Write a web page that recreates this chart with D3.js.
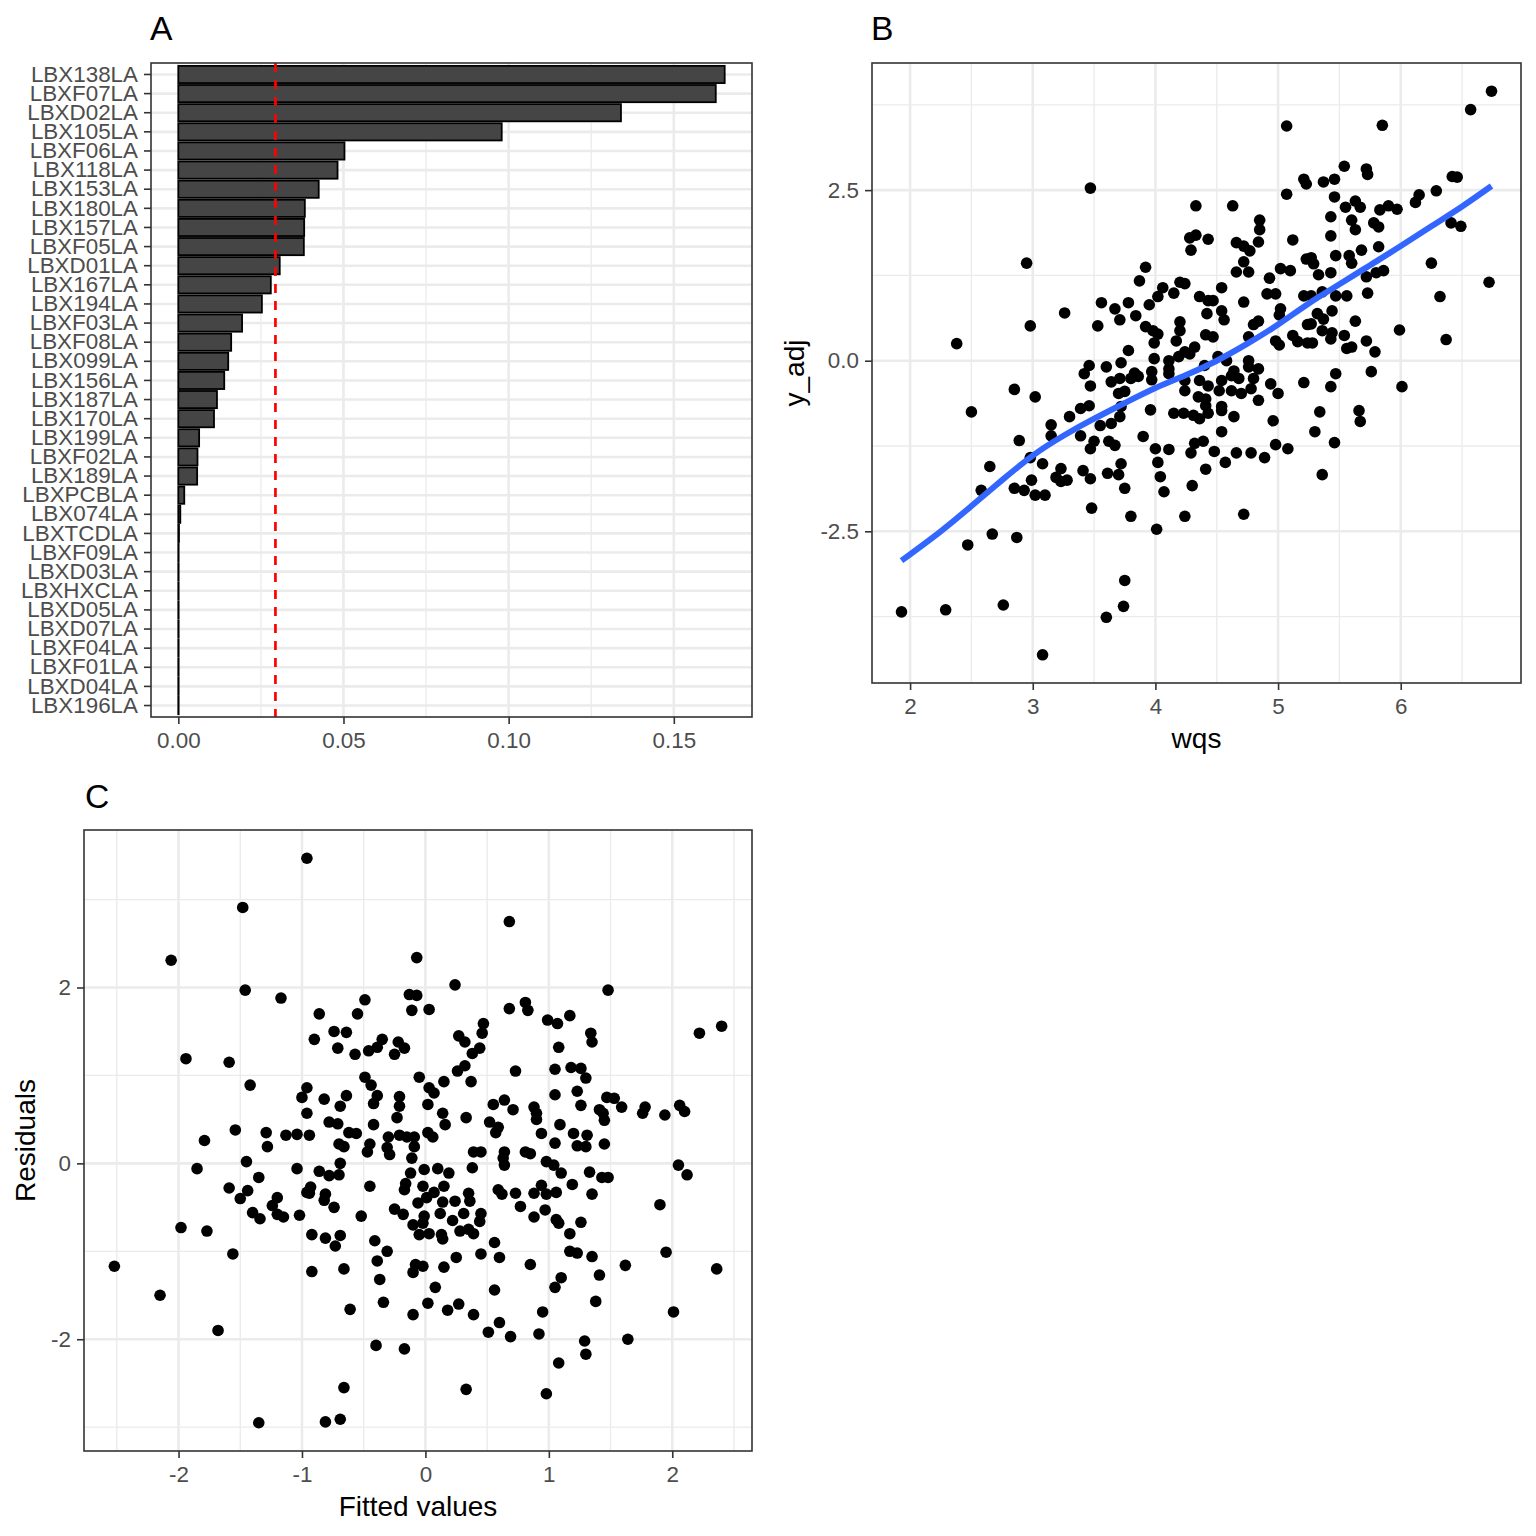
<!DOCTYPE html>
<html>
<head>
<meta charset="utf-8">
<script src="https://cdnjs.cloudflare.com/ajax/libs/d3/7.8.5/d3.min.js"></script>
<style>
  body { margin: 0; background: #fff; }
  svg { display: block; font-family: 'Liberation Sans', Arial, sans-serif; }
</style>
</head>
<body>
<script>
/* ----------- DATA ----------- */
// panel A: weights per congener, top to bottom
const categories = ['LBX138LA','LBXF07LA','LBXD02LA','LBX105LA','LBXF06LA','LBX118LA','LBX153LA',
  'LBX180LA','LBX157LA','LBXF05LA','LBXD01LA','LBX167LA','LBX194LA','LBXF03LA','LBXF08LA',
  'LBX099LA','LBX156LA','LBX187LA','LBX170LA','LBX199LA','LBXF02LA','LBX189LA','LBXPCBLA',
  'LBX074LA','LBXTCDLA','LBXF09LA','LBXD03LA','LBXHXCLA','LBXD05LA','LBXD07LA','LBXF04LA',
  'LBXF01LA','LBXD04LA','LBX196LA'];
const weights = [0.1654,0.1627,0.1340,0.0979,0.0503,0.0482,0.0425,0.0383,0.0381,0.0380,0.0307,
  0.0280,0.0253,0.0193,0.0160,0.0151,0.0139,0.0117,0.0108,0.0063,0.0058,0.0057,0.0018,0.0006,
  0.0002,0,0,0,0,0,0,0,0,0];
const threshold = 0.0294;
const weightTicks = [0, 0.05, 0.10, 0.15];

// panel B: wqs index vs adjusted outcome
const wqs = [3.47,2.95,3.26,2.98,2.38,3.46,3.42,
  5.07,5.21,5.23,5.07,4.33,4.63,4.85,4.85,4.84,4.28,4.33,4.43,4.29,4.66,4.72,4.77,5.12,4.72,4.66,
  4.76,5.02,5.10,5.23,4.93,3.92,3.87,4.20,4.24,4.06,4.02,4.15,4.54,4.91,4.98,5.21,4.36,4.43,4.47,
  4.72,3.56,3.78,3.67,3.95,3.84,3.71,4.42,4.54,4.56,5.02,5.01,3.53,3.92,3.98,4.02,4.20,4.20,3.99,
  4.17,4.41,4.47,4.76,4.84,4.80,4.98,5.01,5.12,5.16,5.24,5.24,3.78,3.72,3.60,3.99,4.11,4.19,4.24,
  4.32,4.28,4.11,3.97,4.40,4.51,4.58,4.76,4.76,4.84,4.64,3.83,
  6.74,6.57,5.85,5.54,5.72,5.73,5.37,5.46,6.42,6.46,6.29,6.15,6.12,5.46,5.55,5.63,5.67,5.83,5.90,
  5.97,5.43,5.60,5.63,5.78,5.82,6.41,6.49,5.43,5.82,5.68,5.58,5.60,5.47,5.27,5.29,5.33,5.43,5.80,
  5.86,5.72,6.25,6.72,5.73,5.56,5.47,5.36,5.27,6.32,5.44,5.32,5.37,5.63,5.27,5.36,5.44,5.43,5.54,
  5.28,5.72,5.56,5.60,5.79,5.99,6.37,5.47,5.76,
  5.43,6.01,5.34,5.66,5.67,5.30,5.46,5.36,
  3.47,2.85,3.02,2.50,3.39,3.46,3.30,3.15,3.15,3.39,2.89,3.47,2.98,3.08,2.65,3.23,3.41,3.19,3.23,
  3.28,2.99,3.47,2.58,2.85,2.93,3.02,3.10,3.48,2.67,2.87,2.47,1.93,2.29,2.76,3.08,
  3.64,3.71,3.80,3.86,3.97,4.11,3.70,3.75,3.72,3.71,3.64,3.55,3.96,3.90,3.50,3.62,3.67,3.72,3.61,
  3.70,3.75,3.80,4.00,4.11,4.02,4.04,4.07,4.01,4.24,4.24,4.36,4.43,4.35,4.41,4.41,4.52,4.54,4.62,
  4.70,4.78,4.80,4.68,4.62,4.94,5.00,5.21,4.84,4.54,4.54,4.64,4.15,4.23,4.31,4.36,4.43,4.96,4.54,
  4.32,4.39,4.29,4.48,4.66,4.78,4.89,4.98,5.08,4.57,4.41,4.30,4.24,4.72,3.75,3.74,3.60];
const yAdj = [2.53,1.43,0.70,0.51,0.25,-0.07,-0.19,
  3.44,2.66,2.59,2.44,2.27,2.27,2.06,1.92,1.74,1.80,1.84,1.78,1.62,1.73,1.68,1.61,1.77,1.45,1.30,
  1.30,1.35,1.32,1.49,1.21,1.37,1.17,1.15,1.13,1.07,0.94,0.99,1.07,0.98,0.98,0.95,0.94,0.88,0.88,
  0.86,0.85,0.85,0.76,0.82,0.66,0.60,0.69,0.73,0.60,0.76,0.67,0.51,0.50,0.44,0.39,0.57,0.44,0.26,
  0.29,0.38,0.35,0.35,0.58,0.53,0.29,0.23,0.37,0.28,0.26,0.53,0.15,-0.03,-0.09,0.03,0.00,0.06,0.13,
  0.20,0.10,-0.12,-0.16,-0.07,0.06,0.00,0.00,-0.09,-0.12,-0.15,-0.18,
  3.95,3.68,3.45,2.85,2.81,2.73,2.62,2.66,2.70,2.69,2.49,2.43,2.32,2.40,2.25,2.34,2.25,2.21,2.27,
  2.22,2.11,2.06,1.92,2.02,1.96,2.02,1.97,1.83,1.67,1.62,1.54,1.43,1.54,1.51,1.42,1.26,1.29,1.29,
  1.32,1.23,1.43,1.15,0.99,0.95,0.95,1.01,0.95,0.94,0.73,0.69,0.61,0.58,0.54,0.44,0.41,0.32,0.37,
  0.26,0.29,0.18,0.20,0.13,0.45,0.31,-0.19,-0.16,
  -0.38,-0.38,-0.75,-0.73,-0.89,-1.04,-1.20,-1.67,
  -0.37,-0.42,-0.53,-0.75,-0.70,-0.66,-0.82,-0.94,-1.10,-1.10,-1.17,-1.29,-1.42,-1.51,-1.55,-1.58,
  -1.61,-1.71,-1.77,-1.75,-1.75,-1.73,-1.90,-1.87,-1.90,-1.97,-1.97,-2.16,-2.54,-2.59,-2.70,-3.68,
  -3.65,-3.58,-4.31,
  -0.31,-0.26,-0.26,-0.23,-0.28,-0.19,-0.48,-0.45,-0.67,-0.82,-0.92,-0.95,-0.72,-1.11,-1.18,-1.18,
  -1.24,-1.51,-1.65,-1.67,-1.87,-2.28,-1.29,-1.30,-1.49,-1.70,-1.92,-2.47,-0.29,-0.44,-0.29,-0.37,
  -0.53,-0.56,-0.66,-0.44,-0.29,-0.44,-0.48,-0.41,-0.26,-0.26,-0.22,-0.34,-0.48,-0.32,-0.58,-0.67,
  -0.73,-0.82,-0.77,-0.77,-0.80,-0.85,-0.77,-0.88,-1.04,-1.21,-1.18,-1.35,-1.33,-1.35,-1.35,-1.42,
  -1.23,-1.29,-1.49,-1.59,-1.83,-2.28,-2.25,-3.22,-3.60,-3.76];
// smoother
const smoothX = [1.93,2.25,2.5,2.75,3.0,3.25,3.5,3.75,4.0,4.25,4.5,4.75,5.0,5.25,5.5,5.75,6.0,6.25,6.5,6.74];
const smoothY = [-2.93,-2.50,-2.13,-1.75,-1.39,-1.10,-0.85,-0.62,-0.40,-0.21,0.00,0.25,0.53,0.84,1.12,1.40,1.68,1.97,2.26,2.56];
const wqsTicks = [2, 3, 4, 5, 6];
const yAdjTicks = [-2.5, 0, 2.5];

// panel C: fitted values vs residuals
const fitted = [-0.96,-1.48,-2.06,-1.46,-1.17,-1.94,-1.59,-1.42,-0.96,-1.00,-0.96,-1.54,-1.29,-1.13,-1.04,-1.79,
  -1.28,-1.45,-1.85,-1.04,-1.35,-1.59,-1.44,-1.50,-1.20,-1.24,-0.96,-1.40,-1.34,-1.20,-1.15,-1.02,-1.98,
  -1.77,-1.56,-2.52,-2.15,-1.68,-1.35,
  0.68,-0.07,0.24,-0.13,-0.07,-0.49,-0.86,-0.55,-0.11,0.03,0.68,0.81,0.83,-0.74,-0.64,-0.90,-0.71,-0.57,
  -0.46,-0.39,-0.35,-0.22,-0.17,-0.25,0.27,0.32,0.47,0.46,0.44,0.38,0.32,0.26,0.73,0.37,-0.49,-0.44,
  -0.39,-0.42,-0.05,0.03,0.07,0.15,-0.82,-0.64,-0.69,-0.21,-0.21,-0.23,0.02,0.14,0.16,0.33,0.55,0.64,
  0.71,0.52,0.59,0.57,-0.78,-0.71,-0.62,-0.56,-0.42,-0.94,-0.30,-0.21,-0.15,-0.09,0.02,0.06,
  1.48,0.99,1.07,1.17,1.34,1.35,1.08,2.22,2.40,1.05,1.18,1.26,1.30,1.05,1.23,1.47,1.53,1.59,1.26,1.41,
  1.44,1.45,1.78,1.76,1.94,2.06,2.10,0.88,0.90,0.90,1.09,0.94,1.20,1.31,
  -0.70,-0.66,-0.45,-0.47,-0.31,-0.29,-0.09,-0.11,-0.69,-0.86,-0.78,-0.70,-0.93,-0.94,-0.81,-0.82,-0.74,
  -0.45,-0.52,-0.12,-0.01,0.10,0.19,-0.16,-0.17,-0.02,0.15,0.07,0.01,-0.06,0.14,0.24,0.35,0.36,0.39,
  0.45,0.64,0.63,0.64,0.38,0.81,0.59,0.62,0.73,0.77,-0.25,-0.18,-0.01,0.12,0.31,0.45,0.22,0.44,-0.10,
  -0.02,-0.05,0.03,0.13,0.14,0.28,0.39,0.35,-0.92,-0.81,-0.69,-0.73,-0.41,-0.31,-0.39,-0.92,-0.66,-0.37,
  -0.08,-0.02,-0.10,0.15,0.25,0.45,0.56,0.60,0.08,-0.34,0.02,0.27,0.18,-0.10,0.39,0.56,0.60,0.51,0.69,
  -0.61,-0.40,-0.17,-0.66,0.33,-0.81,-0.69,
  1.05,1.23,1.30,1.45,0.85,0.98,1.04,1.10,1.33,1.43,1.48,2.05,2.12,0.94,0.88,0.98,1.06,1.19,1.35,1.90,
  0.97,0.88,1.06,1.08,1.26,1.17,1.17,1.23,1.35,1.95,1.62,2.36,0.85,1.10,1.05,1.41,1.38,0.95,2.01,0.92,
  1.29,1.64,1.30,1.08,0.98];
const residuals = [3.47,2.91,2.31,1.97,1.88,1.19,1.15,0.89,0.86,0.75,0.57,0.38,0.35,0.32,0.33,0.26,
  0.19,0.02,-0.06,-0.06,-0.16,-0.28,-0.31,-0.40,-0.39,-0.48,-0.33,-0.56,-0.63,-0.58,-0.61,-0.59,-0.73,
  -0.77,-1.03,-1.17,-1.50,-1.90,-2.95,
  2.75,2.34,2.03,1.92,1.91,1.86,1.70,1.70,1.74,1.75,1.76,1.83,1.74,1.50,1.49,1.41,1.31,1.24,1.28,1.32,
  1.41,1.38,1.31,1.24,1.45,1.38,1.59,1.48,1.31,1.25,1.11,1.05,1.05,0.93,0.98,0.89,0.77,0.68,0.98,0.86,
  0.80,0.93,0.73,0.77,0.65,0.76,0.65,0.52,0.67,0.57,0.44,0.52,0.67,0.72,0.61,0.47,0.41,0.35,0.47,0.45,
  0.35,0.34,0.44,0.32,0.30,0.32,0.30,0.30,0.35,0.30,
  1.97,1.63,1.59,1.68,1.48,1.38,1.32,1.48,1.56,1.07,1.09,1.08,0.97,0.78,0.82,0.75,0.74,0.64,0.66,0.61,
  0.57,0.49,0.64,0.57,0.55,0.66,0.59,0.64,0.57,0.50,0.44,0.34,0.34,0.32,
  0.22,0.19,0.22,0.13,0.18,0.10,0.19,0.06,0.00,-0.09,-0.14,-0.13,-0.27,-0.34,-0.35,-0.42,-0.50,-0.26,
  -0.60,-0.11,-0.07,-0.06,-0.11,-0.23,-0.30,-0.26,-0.26,-0.33,-0.39,-0.45,-0.44,-0.43,-0.34,-0.43,0.13,
  0.13,0.13,0.06,-0.02,-0.05,0.13,-0.30,-0.35,-0.34,-0.49,-0.52,-0.58,-0.60,-0.57,-0.57,-0.57,-0.65,
  -0.66,-0.70,-0.68,-0.81,-0.80,-0.81,-0.86,-0.77,-0.80,-0.75,-0.81,-0.85,-0.82,-0.94,-0.88,-1.00,-1.11,
  -1.23,-1.20,-1.32,-1.15,-1.17,-1.24,-1.18,-1.07,-1.03,-0.90,-1.07,-1.41,-1.58,-1.59,-1.60,-1.67,-1.72,
  -1.72,-1.44,-1.81,-1.92,-1.97,-1.66,-2.07,-2.11,-2.55,-2.57,-2.94,-2.91,
  0.23,0.20,0.19,0.22,0.11,0.02,-0.02,-0.11,-0.10,-0.16,-0.16,-0.02,-0.13,-0.25,-0.34,-0.35,-0.33,-0.24,
  -0.35,-0.47,-0.53,-0.61,-0.64,-0.68,-0.67,-0.80,-1.00,-1.02,-1.06,-1.01,-1.16,-1.20,-1.15,-1.30,-1.41,
  -1.27,-1.57,-1.69,-1.69,-1.94,-2.02,-2.00,-2.17,-2.27,-2.62];
const fittedTicks = [-2, -1, 0, 1, 2];
const residualTicks = [-2, 0, 2];

/* ----------- CONTAINER ----------- */
const svg = d3.select('body')
    .append('svg')
    .attr('width', 1536)
    .attr('height', 1536);

const tickFont = 22.4, titleFont = 28, tagFont = 33.7;
const gridMajor = 2.6, gridMinor = 1.3;

// ggplot style 5% expansion of a continuous range
const expand = (ext) => {
    const d = (ext[1] - ext[0]) * 0.05;
    return [ext[0] - d, ext[1] + d];
};

const makePanel = (p) => svg.append('g')
    .attr('transform', `translate(${p.left},${p.top})`);

// vertical / horizontal grid lines for a continuous scale
const vGrid = (g, scale, values, h, w) => {
    g.append('g').selectAll('line').data(values).join('line')
        .attr('x1', d => scale(d)).attr('x2', d => scale(d))
        .attr('y1', 0).attr('y2', h)
        .attr('stroke', '#EBEBEB').attr('stroke-width', w);
};
const hGrid = (g, scale, values, wd, w) => {
    g.append('g').selectAll('line').data(values).join('line')
        .attr('y1', d => scale(d)).attr('y2', d => scale(d))
        .attr('x1', 0).attr('x2', wd)
        .attr('stroke', '#EBEBEB').attr('stroke-width', w);
};

// style an axis group like theme_bw
const styleAxis = (ag) => {
    ag.attr('font-size', tickFont).attr('font-family', null);
    ag.select('.domain').remove();
    ag.selectAll('.tick line').attr('stroke', '#333333').attr('stroke-width', 1.6);
    ag.selectAll('.tick text').attr('fill', '#4D4D4D');
};

const border = (g, p) => {
    g.append('rect')
        .attr('width', p.width).attr('height', p.height)
        .attr('fill', 'none').attr('stroke', '#333333').attr('stroke-width', 1.6);
};

const tag = (label, x, y) => {
    svg.append('text').attr('x', x).attr('y', y)
        .attr('font-size', tagFont).attr('fill', 'black').text(label);
};

/* ----------- PANEL A: BAR CHART ----------- */
const pA = { left: 151, top: 63, width: 601, height: 654 };
const gA = makePanel(pA);

const xA = d3.scaleLinear()
    .domain(expand([0, d3.max(weights)]))
    .range([0, pA.width]);
const yA = d3.scaleBand()
    .domain(categories)
    .range([0, pA.height])
    .paddingInner(0.1)
    .paddingOuter(0.15);

vGrid(gA, xA, [0.025, 0.075, 0.125], pA.height, gridMinor);
vGrid(gA, xA, weightTicks, pA.height, gridMajor);
gA.append('g').selectAll('line').data(categories).join('line')
    .attr('x1', 0).attr('x2', pA.width)
    .attr('y1', d => yA(d) + yA.bandwidth() / 2)
    .attr('y2', d => yA(d) + yA.bandwidth() / 2)
    .attr('stroke', '#EBEBEB').attr('stroke-width', gridMajor);

gA.append('g').selectAll('rect').data(categories).join('rect')
    .attr('x', xA(0))
    .attr('y', d => yA(d))
    .attr('width', (d, i) => Math.max(xA(weights[i]) - xA(0), 0.3))
    .attr('height', yA.bandwidth())
    .attr('fill', '#454545')
    .attr('stroke', 'black')
    .attr('stroke-width', 1.8);

gA.append('line')
    .attr('x1', xA(threshold)).attr('x2', xA(threshold))
    .attr('y1', 0).attr('y2', pA.height)
    .attr('stroke', 'red').attr('stroke-width', 2.7)
    .attr('stroke-dasharray', '9,8');

border(gA, pA);

gA.append('g')
    .attr('transform', `translate(0,${pA.height})`)
    .call(d3.axisBottom(xA).tickValues(weightTicks).tickFormat(d3.format('.2f'))
        .tickSize(7).tickPadding(8))
    .call(styleAxis);
gA.append('g')
    .call(d3.axisLeft(yA).tickSize(7).tickPadding(6))
    .call(styleAxis);

tag('A', 150, 40);

/* ----------- PANEL B: WQS SCATTER ----------- */
const pB = { left: 872, top: 63, width: 649, height: 620 };
const gB = makePanel(pB);

const xB = d3.scaleLinear().domain(expand(d3.extent(wqs))).range([0, pB.width]);
const yB = d3.scaleLinear().domain(expand(d3.extent(yAdj))).range([pB.height, 0]);

vGrid(gB, xB, [2.5, 3.5, 4.5, 5.5, 6.5], pB.height, gridMinor);
hGrid(gB, yB, [-3.75, -1.25, 1.25, 3.75], pB.width, gridMinor);
vGrid(gB, xB, wqsTicks, pB.height, gridMajor);
hGrid(gB, yB, yAdjTicks, pB.width, gridMajor);

gB.append('g').selectAll('circle').data(wqs).join('circle')
    .attr('cx', d => xB(d))
    .attr('cy', (d, i) => yB(yAdj[i]))
    .attr('r', 5.8)
    .attr('fill', 'black');

const smoothLine = d3.line()
    .x(d => xB(d))
    .y((d, i) => yB(smoothY[i]))
    .curve(d3.curveNatural);
gB.append('path')
    .attr('d', smoothLine(smoothX))
    .attr('fill', 'none')
    .attr('stroke', '#3366FF')
    .attr('stroke-width', 6);

border(gB, pB);

gB.append('g')
    .attr('transform', `translate(0,${pB.height})`)
    .call(d3.axisBottom(xB).tickValues(wqsTicks).tickFormat(d3.format('d'))
        .tickSize(7).tickPadding(8))
    .call(styleAxis);
gB.append('g')
    .call(d3.axisLeft(yB).tickValues(yAdjTicks).tickFormat(d => d3.format('.1f')(d).replace('−', '-'))
        .tickSize(7).tickPadding(6))
    .call(styleAxis);

gB.append('text')
    .attr('x', pB.width / 2).attr('y', pB.height + 65)
    .attr('text-anchor', 'middle')
    .attr('font-size', titleFont)
    .text('wqs');
gB.append('text')
    .attr('transform', `translate(-68,${pB.height / 2}) rotate(-90)`)
    .attr('text-anchor', 'middle')
    .attr('font-size', titleFont)
    .text('y_adj');

tag('B', 871, 40);

/* ----------- PANEL C: RESIDUALS ----------- */
const pC = { left: 84, top: 830, width: 668, height: 621 };
const gC = makePanel(pC);

const xC = d3.scaleLinear().domain(expand(d3.extent(fitted))).range([0, pC.width]);
const yC = d3.scaleLinear().domain(expand(d3.extent(residuals))).range([pC.height, 0]);

vGrid(gC, xC, [-2.5, -1.5, -0.5, 0.5, 1.5, 2.5], pC.height, gridMinor);
hGrid(gC, yC, [-3, -1, 1, 3], pC.width, gridMinor);
vGrid(gC, xC, fittedTicks, pC.height, gridMajor);
hGrid(gC, yC, residualTicks, pC.width, gridMajor);

gC.append('g').selectAll('circle').data(fitted).join('circle')
    .attr('cx', d => xC(d))
    .attr('cy', (d, i) => yC(residuals[i]))
    .attr('r', 5.8)
    .attr('fill', 'black');

border(gC, pC);

gC.append('g')
    .attr('transform', `translate(0,${pC.height})`)
    .call(d3.axisBottom(xC).tickValues(fittedTicks).tickFormat(d => String(d))
        .tickSize(7).tickPadding(8))
    .call(styleAxis);
gC.append('g')
    .call(d3.axisLeft(yC).tickValues(residualTicks).tickFormat(d => String(d))
        .tickSize(7).tickPadding(6))
    .call(styleAxis);

gC.append('text')
    .attr('x', pC.width / 2).attr('y', pC.height + 65)
    .attr('text-anchor', 'middle')
    .attr('font-size', titleFont)
    .text('Fitted values');
gC.append('text')
    .attr('transform', `translate(-49,${pC.height / 2}) rotate(-90)`)
    .attr('text-anchor', 'middle')
    .attr('font-size', titleFont)
    .text('Residuals');

tag('C', 85, 808);
</script>
</body>
</html>
